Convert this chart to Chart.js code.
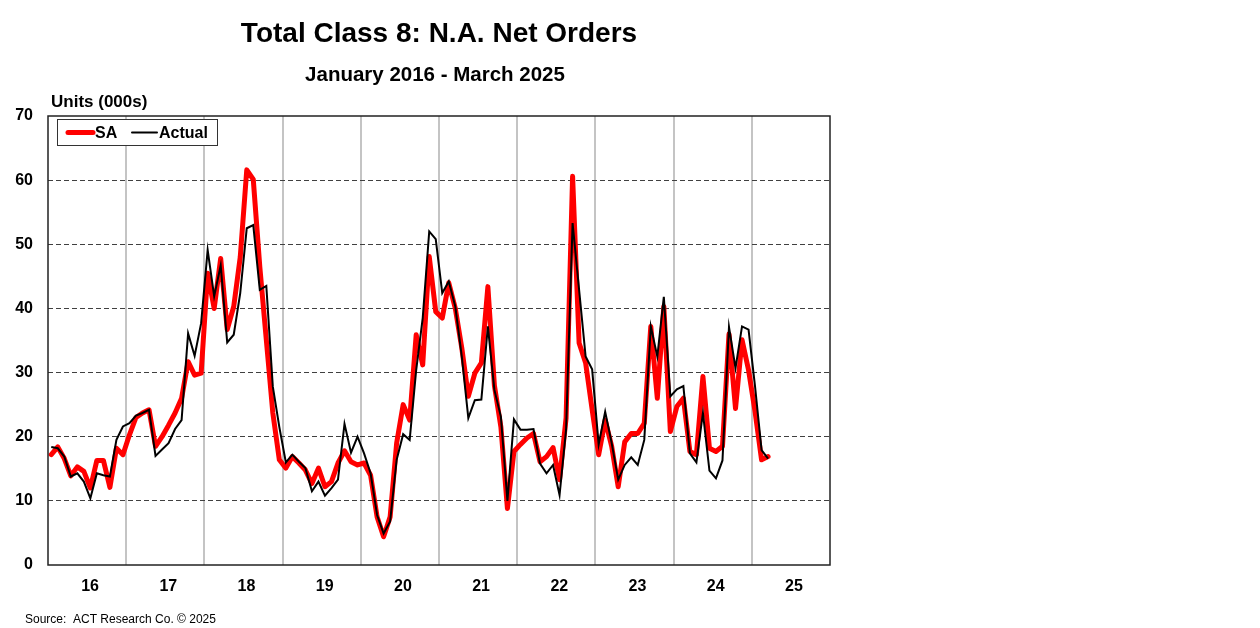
<!DOCTYPE html>
<html>
<head>
<meta charset="utf-8">
<script src="https://cdn.jsdelivr.net/npm/chart.js@4.4.1/dist/chart.umd.min.js"></script>
<style>
    html, body { margin: 0; padding: 0; background: #ffffff; }
    #wrap { width: 1260px; height: 628px; }
</style>
</head>
<body>
<div id="wrap"><canvas id="ordersChart" width="1260" height="628"></canvas></div>
<script>

// year labels for the x axis, one per calendar year 2016..2025
const yearLabels = ['16', '17', '18', '19', '20', '21', '22', '23', '24', '25'];

// y axis ticks (units, 000s)
const yTicks = [0, 10, 20, 30, 40, 50, 60, 70];

// monthly SA net orders, Jan 2016 .. Mar 2025
const saOrders = [
    17.2, 18.4, 16.6, 13.9, 15.3, 14.6, 12.0, 16.3, 16.3, 12.1, 18.2, 17.2,
    20.3, 23.0, 23.7, 24.2, 18.5, 20.0, 21.8, 23.7, 26.0, 31.7, 29.6, 29.9,
    45.5, 40.0, 47.8, 36.7, 40.3, 48.0, 61.6, 60.1, 46.5, 35.1, 23.7, 16.4,
    15.1, 16.9, 15.9, 14.8, 12.7, 15.1, 12.2, 13.0, 15.9, 17.8, 16.1, 15.6,
    15.9, 14.0, 7.5, 4.4, 7.5, 19.0, 25.0, 22.6, 35.9, 31.2, 48.1, 39.5,
    38.5, 44.0, 40.0, 33.8, 26.3, 29.9, 31.5, 43.4, 28.0, 21.5, 8.8, 17.7,
    18.8, 19.8, 20.5, 16.1, 16.9, 18.3, 13.3, 22.9, 60.6, 34.6, 31.5, 24.2,
    17.2, 22.6, 18.5, 12.2, 19.2, 20.5, 20.5, 22.1, 37.2, 26.0, 40.3, 20.8,
    24.7, 26.0, 17.7, 17.2, 29.4, 18.2, 17.7, 18.5, 36.0, 24.4, 35.1, 30.4,
    23.9, 16.4, 16.9
];

// monthly actual net orders, Jan 2016 .. Mar 2025
const actualOrders = [
    18.4, 18.2, 16.9, 13.8, 14.3, 13.0, 10.4, 14.3, 14.0, 13.8, 19.5, 21.6,
    22.1, 23.3, 23.7, 24.2, 17.0, 18.0, 19.0, 21.2, 22.6, 36.1, 32.6, 37.7,
    49.1, 41.9, 46.7, 34.7, 35.9, 42.4, 52.5, 53.0, 42.9, 43.5, 27.8, 21.5,
    16.0, 17.2, 16.1, 15.1, 11.5, 13.0, 10.8, 12.0, 13.3, 22.0, 17.5, 20.0,
    17.4, 14.3, 7.8, 4.9, 6.8, 16.4, 20.4, 19.5, 30.4, 38.5, 52.0, 50.8,
    42.4, 44.2, 40.3, 32.5, 22.9, 25.7, 25.8, 37.2, 27.3, 23.1, 10.0, 22.7,
    21.1, 21.1, 21.2, 15.8, 14.3, 15.6, 10.9, 21.1, 53.3, 42.9, 32.5, 30.5,
    18.8, 23.9, 19.0, 13.3, 15.6, 16.8, 15.6, 19.5, 37.2, 32.5, 41.8, 26.3,
    27.4, 27.9, 17.4, 16.0, 23.7, 14.7, 13.5, 16.3, 37.1, 30.7, 37.2, 36.7,
    27.8, 17.9, 16.6
];

const FONT = "'Liberation Sans', Arial, sans-serif";

Chart.defaults.font.family = FONT;
Chart.defaults.color = '#000000';

// months sit in the middle of their slot on a 0..120 month axis
function toPoints(values) {
    return values.map((v, i) => ({ x: i + 0.5, y: v }));
}

// frame, titles, legend box and source line
const chartDecor = {
    id: 'chartDecor',
    afterDraw(chart) {
        const ctx = chart.ctx;
        const area = chart.chartArea;

        ctx.save();

        ctx.strokeStyle = '#222222';
        ctx.lineWidth = 1.5;
        ctx.strokeRect(area.left, area.top, area.right - area.left, area.bottom - area.top);

        ctx.fillStyle = '#000000';
        ctx.textBaseline = 'alphabetic';

        ctx.textAlign = 'center';
        ctx.font = `bold 28px ${FONT}`;
        ctx.fillText('Total Class 8: N.A. Net Orders', 439, 42);

        ctx.font = `bold 20.5px ${FONT}`;
        ctx.fillText('January 2016 - March 2025', 435, 81);

        ctx.textAlign = 'left';
        ctx.font = `bold 17px ${FONT}`;
        ctx.fillText('Units (000s)', 51, 107);

        ctx.font = `12px ${FONT}`;
        ctx.fillText('Source:  ACT Research Co. \u00A9 2025', 25, 623);

        // legend box
        const boxX = 57, boxY = 119, boxW = 160, boxH = 26;
        ctx.fillStyle = '#ffffff';
        ctx.fillRect(boxX, boxY, boxW, boxH);
        ctx.strokeStyle = '#333333';
        ctx.lineWidth = 1;
        ctx.strokeRect(boxX + 0.5, boxY + 0.5, boxW, boxH);

        const midY = boxY + boxH / 2 + 0.5;
        const legendItems = [
            { ds: chart.data.datasets[0], x: 68 },
            { ds: chart.data.datasets[1], x: 132 }
        ];

        ctx.font = `bold 16px ${FONT}`;
        ctx.textBaseline = 'middle';

        legendItems.forEach(item => {
            ctx.strokeStyle = item.ds.borderColor;
            ctx.lineWidth = item.ds.borderWidth;
            ctx.lineCap = 'round';
            ctx.beginPath();
            ctx.moveTo(item.x, midY);
            ctx.lineTo(item.x + 25, midY);
            ctx.stroke();

            ctx.fillStyle = '#000000';
            ctx.fillText(item.ds.label, item.x + 27, midY + 1);
        });

        ctx.restore();
    }
};

new Chart(document.getElementById('ordersChart'), {

    type: 'line',

    data: {
        datasets: [
            {
                label: 'SA',
                data: toPoints(saOrders),
                borderColor: '#ff0000',
                borderWidth: 5,
                borderJoinStyle: 'round',
                borderCapStyle: 'round',
                pointRadius: 0,
                tension: 0,
                order: 2
            },
            {
                label: 'Actual',
                data: toPoints(actualOrders),
                borderColor: '#000000',
                borderWidth: 2,
                pointRadius: 0,
                tension: 0,
                order: 1
            }
        ]
    },

    options: {

        responsive: false,
        animation: false,
        devicePixelRatio: 1,

        layout: {
            padding: { top: 116, right: 430, bottom: 0, left: 0 }
        },

        plugins: {
            legend: { display: false },
            title: { display: false },
            tooltip: { enabled: false }
        },

        scales: {

            x: {
                type: 'linear',
                min: 0,
                max: 120,
                afterBuildTicks(scale) {
                    const ticks = [];
                    for (let v = 0; v <= 120; v += 6) {
                        ticks.push({ value: v });
                    }
                    scale.ticks = ticks;
                },
                afterFit(scale) {
                    scale.height = 63;
                },
                ticks: {
                    autoSkip: false,
                    maxRotation: 0,
                    padding: 12,
                    labelOffset: 3,
                    font: { size: 16, weight: 'bold' },
                    callback: value =>
                        value % 12 === 6 ? yearLabels[(value - 6) / 12] : ''
                },
                grid: {
                    drawTicks: false,
                    lineWidth: 2,
                    color: ctx =>
                        ctx.tick && ctx.tick.value % 12 === 0 && ctx.tick.value > 0 && ctx.tick.value < 120
                            ? '#c4c4c4'
                            : 'rgba(0,0,0,0)'
                },
                border: { display: false }
            },

            y: {
                min: yTicks[0],
                max: yTicks[yTicks.length - 1],
                afterBuildTicks(scale) {
                    scale.ticks = yTicks.map(v => ({ value: v }));
                },
                afterFit(scale) {
                    scale.width = 48;
                },
                ticks: {
                    padding: 15,
                    font: { size: 16, weight: 'bold' }
                },
                grid: {
                    drawTicks: false,
                    lineWidth: 1,
                    color: ctx =>
                        ctx.tick && ctx.tick.value > 0 && ctx.tick.value < 70
                            ? '#404040'
                            : 'rgba(0,0,0,0)'
                },
                border: { display: false, dash: [5, 3] }
            }

        }

    },

    plugins: [chartDecor]

});

</script>
</body>
</html>
